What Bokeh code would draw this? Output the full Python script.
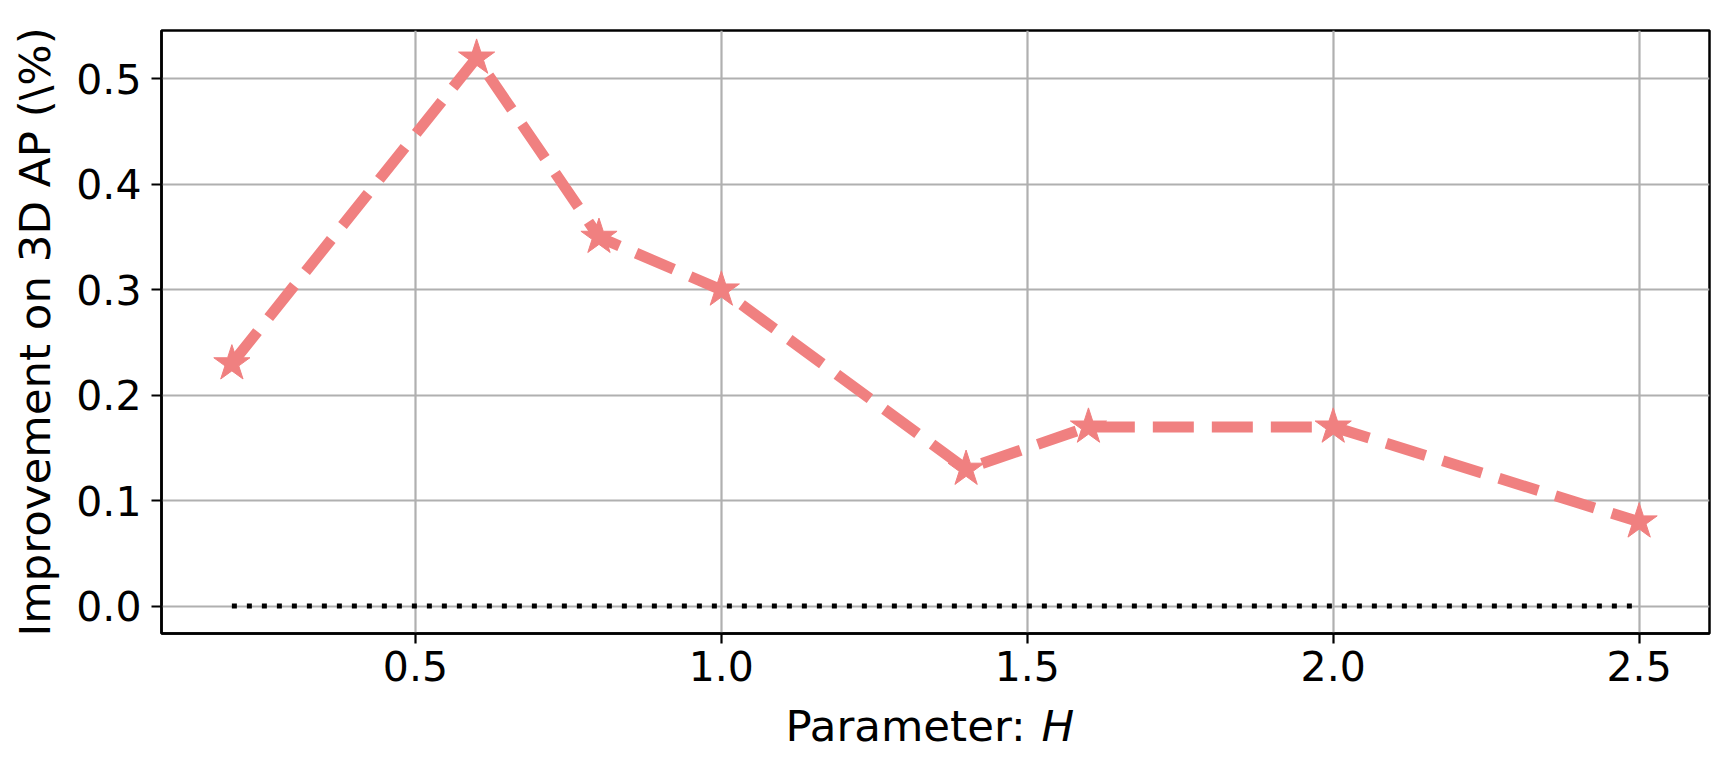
from bokeh.plotting import figure
from bokeh.layouts import column
from bokeh.models import FixedTicker, PrintfTickFormatter, Range1d
from bokeh.core.properties import value
from bokeh.embed import file_html
from bokeh.resources import INLINE

# ---- data ----
h_values = [0.2, 0.6, 0.8, 1.0, 1.4, 1.6, 2.0, 2.5]
improvement = [0.23, 0.52, 0.35, 0.30, 0.13, 0.17, 0.17, 0.08]
zero_level = [0.0, 0.0]
x_ticks = [0.5, 1.0, 1.5, 2.0, 2.5]
y_ticks = [0.0, 0.1, 0.2, 0.3, 0.4, 0.5]
x_label_main = "Parameter:"
x_label_var = "H"
y_label = "Improvement on 3D AP (\\%)"

# ranges with 5% margins (like matplotlib autoscale)
xspan = max(h_values) - min(h_values)
ymin = min(min(improvement), 0.0)
ymax = max(improvement)
yspan = ymax - ymin

RED = "#F08080"
GRID = "#b0b0b0"
FONT = "DejaVu Sans"

BL, BR, BT, BB = 161, 12, 30, 66
FW, FH = 1548, 603

p = figure(frame_width=FW, frame_height=FH,
           output_backend="svg", toolbar_location=None,
           x_range=Range1d(min(h_values) - 0.05 * xspan, max(h_values) + 0.05 * xspan),
           y_range=Range1d(ymin - 0.05 * yspan, ymax + 0.05 * yspan),
           min_border_left=BL, min_border_right=BR,
           min_border_top=BT, min_border_bottom=BB)

p.background_fill_color = "white"
p.border_fill_color = "white"
p.outline_line_color = "black"
p.outline_line_width = 2.5

# grid
p.xgrid.ticker = FixedTicker(ticks=x_ticks)
p.ygrid.ticker = FixedTicker(ticks=y_ticks)
for g in (p.xgrid, p.ygrid):
    g.grid_line_color = GRID
    g.grid_line_width = 2.2

# axes
p.xaxis.ticker = FixedTicker(ticks=x_ticks)
p.yaxis.ticker = FixedTicker(ticks=y_ticks)
p.xaxis.formatter = PrintfTickFormatter(format="%.1f")
p.yaxis.formatter = PrintfTickFormatter(format="%.1f")
for ax in (p.xaxis, p.yaxis):
    ax.axis_line_color = "black"
    ax.axis_line_width = 2.5
    ax.major_tick_line_color = "black"
    ax.major_tick_line_width = 2.2
    ax.major_tick_out = 10
    ax.major_tick_in = 0
    ax.minor_tick_line_color = None
    ax.major_label_text_font = FONT
    ax.major_label_text_font_size = "41px"
    ax.major_label_text_color = "black"
p.xaxis.major_label_standoff = 7
p.yaxis.major_label_standoff = 10

p.xaxis.axis_label = None
p.yaxis.axis_label = y_label
p.yaxis.axis_label_text_font = FONT
p.yaxis.axis_label_text_font_size = "43.5px"
p.yaxis.axis_label_text_font_style = "normal"
p.yaxis.axis_label_text_color = "black"
p.yaxis.axis_label_standoff = 13

# zero reference line (dotted)
p.line([h_values[0], h_values[-1]], zero_level, line_color="black",
       line_width=5, line_dash="5 10")

# main dashed line with star markers
p.line(h_values, improvement, line_color=RED, line_width=11, line_dash="41 18")
p.scatter(h_values, improvement, marker="star", size=38,
          fill_color=RED, line_color=RED)

# ---- x-axis label strip: "Parameter: " + italic H ----
# same borders as the main plot so the column aligns them; data x == page x
LH = 70
p2 = figure(frame_width=FW, frame_height=LH, output_backend="svg", toolbar_location=None,
            x_range=Range1d(BL, BL + FW), y_range=Range1d(0, LH),
            x_axis_location=None, y_axis_location=None,
            min_border_left=BL, min_border_right=BR,
            min_border_top=0, min_border_bottom=0)
p2.outline_line_color = None
p2.xgrid.visible = False
p2.ygrid.visible = False
p2.background_fill_color = "white"
p2.border_fill_color = "white"

label_y = 44
p2.text(x=[785], y=[label_y], text=[x_label_main],
        text_font=value(FONT), text_font_size="43.5px", text_font_style="normal",
        text_color="black", text_align="left", text_baseline="alphabetic")
p2.text(x=[1041], y=[label_y], text=[x_label_var],
        text_font=value(FONT), text_font_size="43.5px", text_font_style="italic",
        text_color="black", text_align="left", text_baseline="alphabetic")

layout = column(p, p2, spacing=0)
open("out.html", "w").write(file_html(layout, INLINE))
